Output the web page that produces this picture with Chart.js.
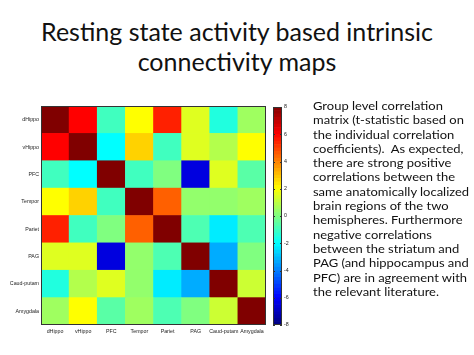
<!DOCTYPE html>
<html>
<head>
<meta charset="utf-8">
<script src="https://cdn.jsdelivr.net/npm/chart.js@4.4.0/dist/chart.umd.min.js"></script>
<style>
  body { margin: 0; background: #fff; width: 474px; height: 355px; position: relative; overflow: hidden; font-family: Lato, "Open Sans", sans-serif; }
  #title { position: absolute; left: 0; top: 16px; width: 474px; text-align: center; font-size: 25px; line-height: 30px; color: #111; }
  #heat { position: absolute; left: 0; top: 100px; }
  #cbar { position: absolute; left: 268px; top: 100px; }
  #note { position: absolute; left: 313px; top: 99px; font-size: 12px; line-height: 14.3px; color: #111; white-space: nowrap; transform: scaleX(1.08); transform-origin: 0 0; }
</style>
</head>
<body>
<div id="title">Resting state activity based intrinsic<br>connectivity maps</div>
<canvas id="heat" width="270" height="240"></canvas>
<canvas id="cbar" width="40" height="240"></canvas>
<div id="note">Group level correlation<br>matrix (t-statistic based on<br>the individual correlation<br>coefficients).&nbsp; As expected,<br>there are strong positive<br>correlations between the<br>same anatomically localized<br>brain regions of the two<br>hemispheres. Furthermore<br>negative correlations<br>between the striatum and<br>PAG (and hippocampus and<br>PFC) are in agreement with<br>the relevant literature.</div>
<script>
// regions, top row first / left column first
const regions = ["dHippo", "vHippo", "PFC", "Tempor", "Pariet", "PAG", "Caud-putam", "Amygdala"];

// t-statistics (jet, -8..8)
const rowDHippo = [8, 6, -1, 2, 5.5, 1.5, -1.5, 0.5];
const rowVHippo = [6, 8, -2, 2.7, -1, 1.5, 0.8, 2];
const rowPFC = [-1, -2, 8, -1, 0, -6.5, 1.5, -0.6];
const rowTempor = [2, 2.7, -1, 8, 4.5, 0.3, 0.3, 0.5];
const rowPariet = [5.5, -1, 0, 4.5, 8, -0.8, -2.3, -0.8];
const rowPAG = [1.5, 1.5, -6.5, 0.3, -0.8, 8, -3.3, 0];
const rowCaudPutam = [-1.5, 0.8, 1.5, 0.3, -2.3, -3.3, 8, 1.2];
const rowAmygdala = [0.5, 2, -0.6, 0.5, -0.8, 0, 1.2, 8];
const matrix = [rowDHippo, rowVHippo, rowPFC, rowTempor, rowPariet, rowPAG, rowCaudPutam, rowAmygdala];

const cmin = -8, cmax = 8;
const cbarTicks = [-8, -6, -4, -2, 0, 2, 4, 6, 8];

function jet(v) {
    const t = Math.min(1, Math.max(0, (v - cmin) / (cmax - cmin)));
    const ch = (x) => Math.round(255 * Math.min(1, Math.max(0, x)));
    const r = ch(Math.min(4 * t - 1.5, -4 * t + 4.5));
    const g = ch(Math.min(4 * t - 0.5, -4 * t + 3.5));
    const b = ch(Math.min(4 * t + 0.5, -4 * t + 2.5));
    return `rgb(${r},${g},${b})`;
}

// black box round the plot area, plus small inward tick marks (matlab style)
const frame = {
    id: "frame",
    afterDatasetsDraw(chart) {
        const { ctx, chartArea: a } = chart;
        ctx.save();
        ctx.strokeStyle = "#333";
        ctx.lineWidth = 1;
        ctx.strokeRect(a.left + 0.5, a.top + 0.5, a.width - 1, a.height - 1);
        const y = chart.scales.y;
        if (chart.canvas.id === "cbar") {
            y.ticks.forEach((t) => {
                const py = Math.round(y.getPixelForValue(t.value)) + 0.5;
                ctx.beginPath();
                ctx.moveTo(a.left, py); ctx.lineTo(a.left + 2, py);
                ctx.moveTo(a.right, py); ctx.lineTo(a.right - 2, py);
                ctx.stroke();
            });
        }
        ctx.restore();
    },
};

const tickFont = { family: "Liberation Sans, Arial, sans-serif", size: 5.3 };

// stacked bars, bottom dataset = last region
const n = regions.length;
const datasets = [];
for (let k = 0; k < n; k++) {
    const row = matrix[n - 1 - k];
    datasets.push({
        label: regions[n - 1 - k],
        data: row.map(() => 1),
        backgroundColor: row.map(jet),
        borderWidth: 0,
        barPercentage: 1,
        categoryPercentage: 1,
    });
}

new Chart(document.getElementById("heat"), {
    type: "bar",
    data: { labels: regions, datasets },
    options: {
        responsive: false,
        animation: false,
        layout: { padding: { top: 6, right: 4, left: 0, bottom: 0 } },
        plugins: { legend: { display: false }, tooltip: { enabled: false } },
        scales: {
            x: {
                stacked: true,
                grid: { display: false, drawTicks: false },
                border: { display: false },
                ticks: { color: "#222", font: tickFont, maxRotation: 0, autoSkip: false, padding: 3 },
                afterFit: (s) => { s.height = 15; },
            },
            y: {
                stacked: true,
                min: 0,
                max: n,
                grid: { display: false, drawTicks: false },
                border: { display: false },
                afterBuildTicks: (s) => { s.ticks = regions.map((_, i) => ({ value: i + 0.5 })); },
                ticks: {
                    color: "#222",
                    font: tickFont,
                    padding: 2,
                    callback: (v) => regions[n - 1 - Math.floor(v)],
                },
                afterFit: (s) => { s.width = 41; },
            },
        },
    },
    plugins: [frame],
});

// colour bar: thin floating segments from cmin to cmax
const steps = 64;
const segs = [], segColors = [];
for (let i = 0; i < steps; i++) {
    const lo = cmin + (i * (cmax - cmin)) / steps;
    const hi = cmin + ((i + 1) * (cmax - cmin)) / steps;
    segs.push([lo, hi]);
    segColors.push(jet((lo + hi) / 2));
}

new Chart(document.getElementById("cbar"), {
    type: "bar",
    data: {
        labels: [""],
        datasets: segs.map((s, i) => ({
            data: [s],
            backgroundColor: segColors[i],
            borderWidth: 0,
            barPercentage: 1,
            categoryPercentage: 1,
            grouped: false,
        })),
    },
    options: {
        responsive: false,
        animation: false,
        layout: { padding: { top: 7, right: 0, left: 5, bottom: 15 } },
        plugins: { legend: { display: false }, tooltip: { enabled: false } },
        scales: {
            x: { display: false },
            y: {
                position: "right",
                min: cmin,
                max: cmax,
                grid: { display: false, drawTicks: false },
                border: { display: false },
                afterBuildTicks: (s) => { s.ticks = cbarTicks.map((v) => ({ value: v })); },
                ticks: { color: "#222", font: tickFont, padding: 2 },
                afterFit: (s) => { s.width = 26; },
            },
        },
    },
    plugins: [frame],
});
</script>
</body>
</html>
